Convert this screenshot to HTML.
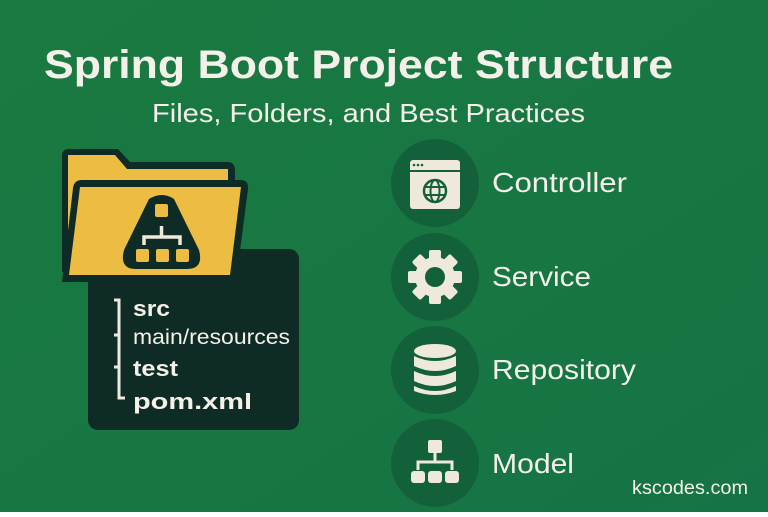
<!DOCTYPE html>
<html><head><meta charset="utf-8"><style>html,body{margin:0;padding:0}body{width:768px;height:512px;overflow:hidden}</style></head><body>
<svg width="768" height="512" viewBox="0 0 768 512" xmlns="http://www.w3.org/2000/svg" font-family="Liberation Sans, sans-serif">
<defs><linearGradient id="bg" x1="0" y1="0" x2="1" y2="1"><stop offset="0" stop-color="#1a7a40"/><stop offset="1" stop-color="#167345"/></linearGradient></defs>
<rect width="768" height="512" fill="url(#bg)"/>
<text x="44" y="78" font-size="40" font-weight="bold" fill="#f4f1ea" textLength="629" lengthAdjust="spacingAndGlyphs">Spring Boot Project Structure</text>
<text x="152" y="122" font-size="26" fill="#f4f1ea" textLength="433" lengthAdjust="spacingAndGlyphs">Files, Folders, and Best Practices</text>
<!-- dark panel -->
<rect x="88" y="249" width="211" height="181" rx="10" fill="#0f2b25"/>
<!-- back folder -->
<path d="M62,156 Q62,149 69,149 L118,149 L130,162 L227,162 Q235,162 235,170 L235,272 L62,272 Z" fill="#0f2b25"/>
<path d="M68,155 L115,155 L127,169 L228,169 L228,266 L68,266 Z" fill="#ecbd42"/>
<!-- front folder -->
<path d="M73,188 Q74,180 82,180 L240,180 Q249,180 248,189 L236,282 L62,282 Z" fill="#0f2b25"/>
<path d="M80,187 L241,187 L230,275 L69,275 Z" fill="#ecbd42"/>
<!-- hierarchy triangle -->
<path d="M149,199 Q162,191 174,199 L199,250 Q204,269 187,269 L136,269 Q119,269 124,250 Z" fill="#0f2b25"/>
<rect x="155" y="204" width="13" height="13" rx="2" fill="#ecbd42"/>
<path d="M161.5,226 V237 M144,245 V237 H180 V245" stroke="#efe9dc" stroke-width="3.5" fill="none"/>
<rect x="136" y="249" width="13" height="13" rx="2" fill="#ecbd42"/>
<rect x="156" y="249" width="13" height="13" rx="2" fill="#ecbd42"/>
<rect x="176" y="249" width="13" height="13" rx="2" fill="#ecbd42"/>
<!-- tree -->
<path d="M114,300 H119 V398 H125 M119,335 H114 M119,367 H114" stroke="#efe9dc" stroke-width="3" fill="none"/>
<g fill="#f4f1ea" font-size="22">
<text x="133" y="316" font-weight="bold" textLength="37" lengthAdjust="spacingAndGlyphs">src</text>
<text x="133" y="344" font-size="21" textLength="157" lengthAdjust="spacingAndGlyphs">main/resources</text>
<text x="133" y="376" font-weight="bold" textLength="45" lengthAdjust="spacingAndGlyphs">test</text>
<text x="133" y="409" font-weight="bold" textLength="119" lengthAdjust="spacingAndGlyphs">pom.xml</text>
</g>
<!-- circles -->
<g fill="#13613a">
<circle cx="435" cy="183" r="44"/><circle cx="435" cy="277" r="44"/><circle cx="435" cy="370" r="44"/><circle cx="435" cy="463" r="44"/>
</g>
<!-- controller icon -->
<rect x="410" y="160" width="50" height="49" rx="3" fill="#efe9dc"/>
<rect x="410" y="170" width="50" height="2" fill="#13613a"/>
<circle cx="414" cy="165" r="1.3" fill="#13613a"/><circle cx="418" cy="165" r="1.3" fill="#13613a"/><circle cx="422" cy="165" r="1.3" fill="#13613a"/>
<circle cx="435" cy="191" r="11" fill="none" stroke="#13613a" stroke-width="2.5"/>
<ellipse cx="435" cy="191" rx="4.5" ry="11" fill="none" stroke="#13613a" stroke-width="2"/>
<path d="M424,187 H446 M424,195 H446" stroke="#13613a" stroke-width="2"/>
<!-- gear -->
<g transform="translate(435,277)" fill="#efe9dc">
<circle r="20"/>
<g><rect x="-6" y="-27" width="12" height="12" rx="2"/><rect x="-6" y="15" width="12" height="12" rx="2"/><rect x="-27" y="-6" width="12" height="12" rx="2"/><rect x="15" y="-6" width="12" height="12" rx="2"/></g>
<g transform="rotate(45)"><rect x="-6" y="-27" width="12" height="12" rx="2"/><rect x="-6" y="15" width="12" height="12" rx="2"/><rect x="-27" y="-6" width="12" height="12" rx="2"/><rect x="15" y="-6" width="12" height="12" rx="2"/></g>
<circle r="10" fill="#13613a"/>
</g>
<!-- database -->
<g fill="#efe9dc">
<ellipse cx="435" cy="351" rx="21" ry="7"/>
<path d="M414,356 Q435,366 456,356 V366 Q435,376 414,366 Z"/>
<path d="M414,371 Q435,381 456,371 V381 Q435,391 414,381 Z"/>
<path d="M414,386 Q435,396 456,386 V391 Q435,399 414,391 Z" />
</g>
<!-- model -->
<rect x="428" y="440" width="14" height="13" rx="2" fill="#efe9dc"/>
<path d="M435,453 V462 M418,470 V462 H452 V470" stroke="#efe9dc" stroke-width="3" fill="none"/>
<rect x="411" y="471" width="14" height="12" rx="3" fill="#efe9dc"/>
<rect x="428" y="471" width="14" height="12" rx="3" fill="#efe9dc"/>
<rect x="445" y="471" width="14" height="12" rx="3" fill="#efe9dc"/>
<g fill="#f4f1ea" font-size="28">
<text x="492" y="192" textLength="135" lengthAdjust="spacingAndGlyphs">Controller</text>
<text x="492" y="286" textLength="99" lengthAdjust="spacingAndGlyphs">Service</text>
<text x="492" y="379" textLength="144" lengthAdjust="spacingAndGlyphs">Repository</text>
<text x="492" y="473" textLength="82" lengthAdjust="spacingAndGlyphs">Model</text>
</g>
<text x="632" y="494" font-size="19" fill="#f4f1ea" textLength="116" lengthAdjust="spacingAndGlyphs">kscodes.com</text>
</svg>
</body></html>
